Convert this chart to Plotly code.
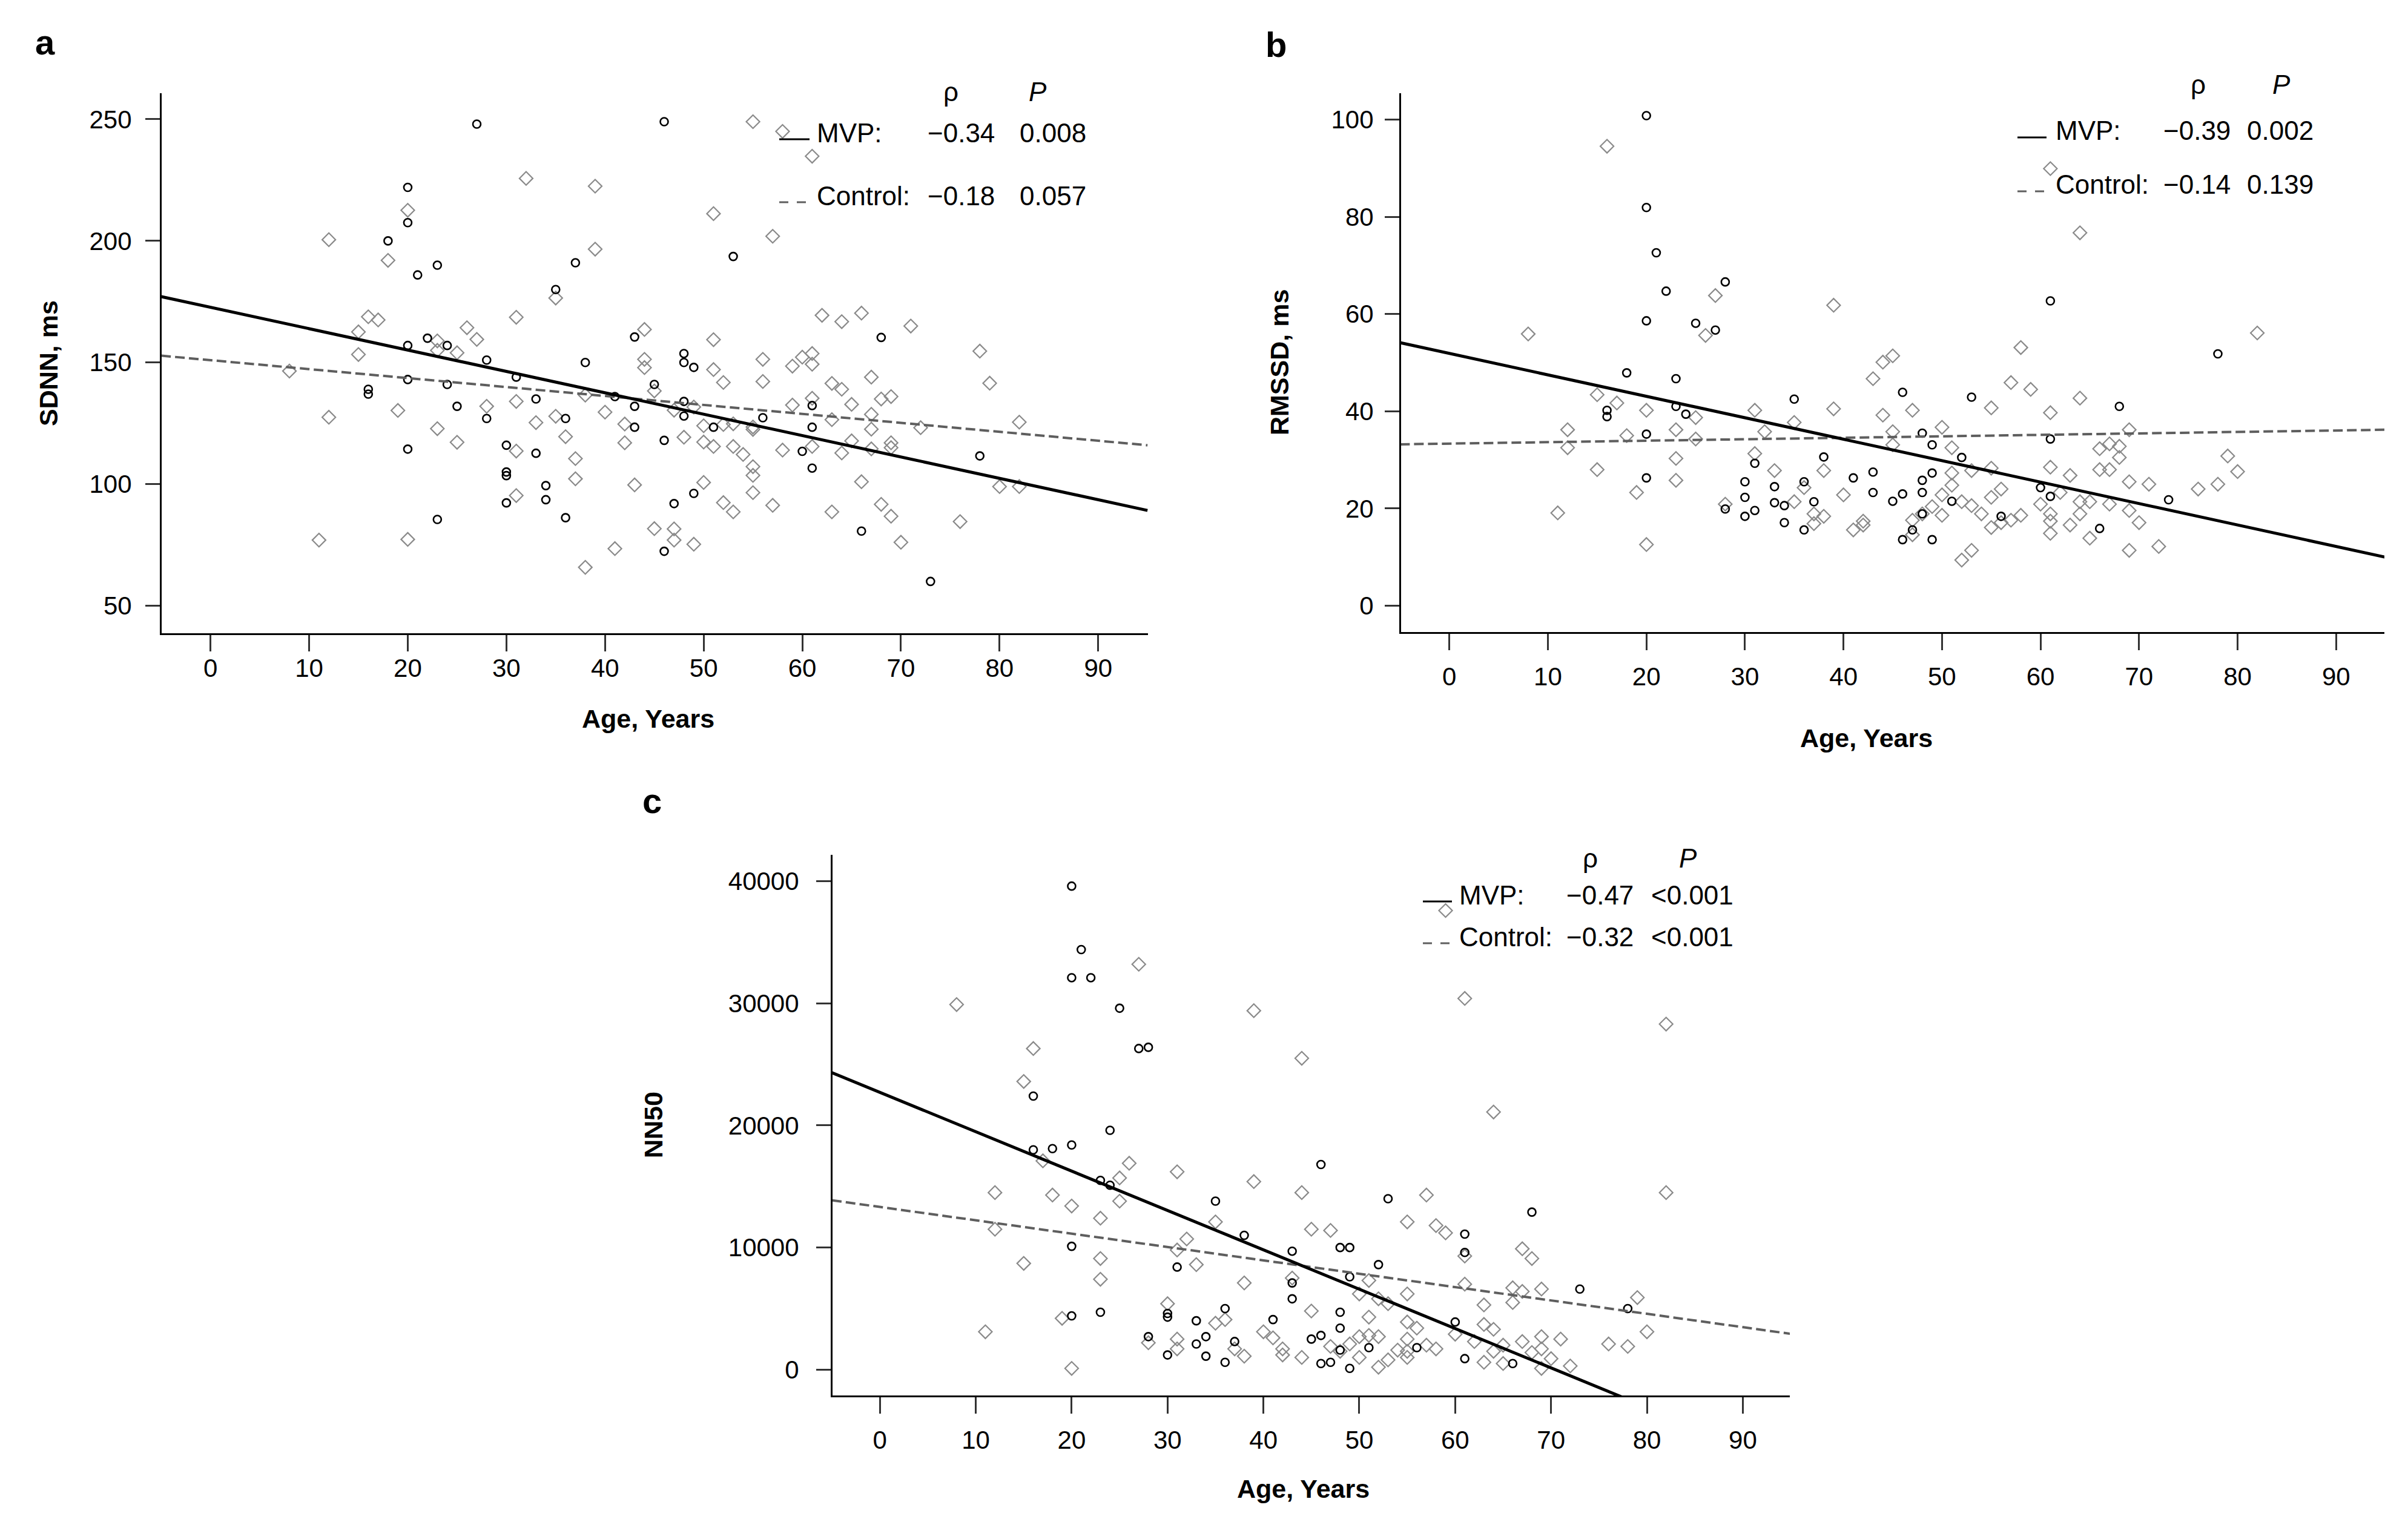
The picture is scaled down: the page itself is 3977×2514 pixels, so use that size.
import plotly.graph_objects as go

W, H = 3977, 2514
FONT = "Liberation Sans, Arial, sans-serif"

# ---------------- Panel a: SDNN ----------------
a_mvp_age = [27, 46, 20, 20, 18, 21, 23, 37, 35, 53, 22, 20, 24, 28, 38, 20, 24, 31, 16, 16,
             25, 33, 28, 36, 43, 48, 48, 49, 41, 43, 45, 43, 48, 48, 46, 51, 30, 33, 30, 30,
             30, 34, 34, 36, 23, 20, 47, 49, 46, 60, 61, 61, 61, 56, 68, 66, 73, 78]
a_mvp_val = [248, 249, 222, 207.5, 200, 186, 190, 191, 180, 193.6, 160, 157, 157, 151, 150, 143, 141, 144, 139, 137,
             132, 135, 127, 127, 160.5, 153.7, 150, 148, 136, 132, 141, 123.4, 134, 128, 118, 123.4, 116, 112.7, 105, 103.5,
             92.3, 99.4, 93.6, 86.2, 85.5, 114.4, 92, 96.2, 72.4, 113.5, 132.3, 123.4, 106.6, 127.3, 160.3, 80.7, 60, 111.6]

a_ctrl_age = [8, 11, 12, 12, 15, 15, 16, 17, 18, 19, 20, 20, 23, 23, 23, 25, 25, 26, 27, 28,
              31, 31, 31, 31, 32, 33, 35, 35, 36, 37, 37, 38, 38, 39, 39, 40, 41, 42, 42, 43,
              44, 44, 44, 45, 45, 47, 47, 47, 48, 49, 49, 50, 50, 50, 51, 51, 51, 51, 52, 52,
              52, 53, 53, 53, 54, 55, 55, 55, 55, 55, 55, 56, 56, 57, 57, 58, 58, 59, 59, 60,
              61, 61, 61, 61, 61, 62, 63, 63, 63, 64, 64, 64, 65, 65, 66, 66, 67, 67, 67, 67,
              68, 68, 69, 69, 69, 69, 70, 71, 72, 76, 78, 79, 80, 82, 82]
a_ctrl_val = [146.5, 77, 200.5, 127.5, 153.3, 162.6, 168.8, 167.5, 192, 130.3, 212.6, 77.3, 122.8, 158.9, 155, 154, 117.2, 164.3, 159.5, 132,
              168.6, 134, 113.6, 95.3, 225.7, 125.3, 176.5, 127.9, 119.5, 110.5, 102.2, 136.6, 65.8, 222.5, 196.6, 129.6, 73.5, 124.7, 117, 99.7,
              163.6, 151.3, 147.9, 138.3, 81.7, 130.4, 81.6, 77, 119.3, 131.7, 75.3, 100.7, 117.3, 124, 211.2, 159.4, 147.1, 115.5, 141.8, 92.4,
              124.5, 88.6, 115.5, 124.8, 112.2, 249, 107.2, 103.6, 96.5, 123.5, 122.5, 151.3, 142.2, 201.9, 91.3, 245, 114, 148.5, 132.5, 152.2,
              234.8, 153.7, 149.3, 135.3, 115.5, 169.4, 141.4, 126.5, 88.6, 166.8, 139, 112.8, 117.8, 132.8, 170.3, 101, 144, 128.7, 122.6, 114.5,
              135, 91.7, 136, 117, 115, 86.8, 76.1, 165, 123.2, 84.6, 154.7, 141.5, 99, 99, 125.5]

a_fit_x = [-5, 95]
a_fit_mvp = [177.1, 89.2]
a_fit_ctrl = [152.8, 116.0]

# ---------------- Panel b: RMSSD ----------------
b_mvp_age = [20, 20, 21, 22, 20, 25, 27, 28, 18, 23, 16, 16, 23, 24, 20, 20, 28, 30, 30, 30,
             31, 31, 33, 33, 34, 34, 35, 36, 36, 37, 38, 41, 43, 43, 45, 46, 46, 46, 47, 48,
             48, 48, 48, 49, 49, 49, 51, 52, 53, 56, 60, 61, 61, 61, 66, 68, 73, 78]
b_mvp_val = [100.8, 81.9, 72.6, 64.7, 58.6, 58.1, 56.7, 66.6, 47.9, 46.7, 40.2, 38.9, 41, 39.4, 35.3, 26.3, 19.9, 25.5, 22.3, 18.4,
             29.3, 19.6, 24.5, 21.2, 20.6, 17.1, 42.5, 25.5, 15.6, 21.4, 30.6, 26.3, 27.5, 23.3, 21.5, 43.9, 23, 13.6, 15.6, 35.5,
             25.8, 23.3, 18.9, 33.1, 27.3, 13.6, 21.5, 30.5, 42.9, 18.4, 24.3, 62.7, 34.3, 22.5, 15.9, 41, 21.8, 51.8]

b_ctrl_age = [8, 11, 12, 12, 15, 15, 16, 17, 18, 19, 20, 20, 23, 23, 23, 25, 25, 26, 27, 28,
              31, 31, 32, 33, 35, 35, 36, 37, 37, 38, 38, 39, 39, 40, 41, 42, 42, 43, 44, 44,
              45, 45, 45, 47, 47, 47, 48, 49, 50, 50, 50, 51, 51, 51, 52, 52, 53, 53, 53, 54,
              55, 55, 55, 55, 56, 56, 57, 57, 58, 58, 59, 60, 61, 61, 61, 61, 61, 61, 62, 63,
              63, 64, 64, 64, 64, 65, 65, 66, 66, 67, 67, 67, 68, 68, 69, 69, 69, 69, 70, 71,
              72, 76, 78, 79, 80, 82]
b_ctrl_val = [55.9, 19.1, 36.2, 32.5, 43.4, 28, 94.5, 41.7, 35, 23.3, 40.2, 12.6, 36.2, 30.3, 25.8, 38.7, 34.3, 55.6, 63.8, 20.9,
              40.2, 31.3, 35.8, 27.8, 37.7, 21.4, 24.3, 18.9, 16.9, 27.8, 18.4, 61.8, 40.5, 22.8, 15.6, 16.6, 17.4, 46.7, 50.1, 39.2,
              51.4, 35.8, 33.1, 40.2, 17.6, 14.6, 18.9, 20.4, 36.7, 22.8, 18.6, 32.5, 27.3, 24.8, 9.4, 21.4, 11.4, 27.8, 20.6, 18.9,
              40.7, 28.3, 22.3, 16.1, 24, 17.1, 45.9, 17.6, 53.1, 18.6, 44.5, 20.9, 89.9, 39.7, 28.5, 18.9, 17.4, 14.9, 23.3, 26.8,
              16.6, 76.7, 42.7, 21.4, 18.9, 21.4, 13.9, 32.3, 28, 33.3, 28, 20.9, 32.8, 30.5, 36.2, 25.5, 19.6, 11.4, 17.1, 25,
              12.2, 24, 25, 30.8, 27.6, 56.1]

b_fit_x = [-5, 95]
b_fit_mvp = [54.1, 10.0]
b_fit_ctrl = [33.2, 36.2]

# ---------------- Panel c: NN50 ----------------
c_mvp_age = [20, 21, 20, 22, 25, 27, 28, 16, 24, 20, 18, 16, 23, 24, 20, 20, 23, 28, 30, 30,
             30, 31, 33, 33, 34, 34, 35, 36, 36, 37, 38, 41, 43, 43, 43, 45, 46, 46, 46, 47,
             48, 48, 48, 48, 49, 49, 49, 51, 52, 53, 56, 60, 61, 61, 61, 66, 68, 73, 78]
c_mvp_val = [39600, 34400, 32100, 32100, 29600, 26300, 26400, 22400, 19600, 18400, 18100, 18000, 15500, 15100, 10100, 4400, 4700, 2700, 4600, 4300,
             1200, 8400, 4000, 2100, 2700, 1100, 13800, 5000, 600, 2300, 11000, 4100, 9700, 7100, 5800, 2500, 16800, 2800, 500, 600,
             10000, 4700, 3400, 1600, 10000, 7600, 100, 1800, 8600, 14000, 1800, 3900, 11100, 9600, 900, 500, 12900, 6600, 5000]

c_ctrl_age = [8, 11, 12, 12, 15, 15, 16, 17, 18, 19, 20, 20, 23, 23, 23, 25, 25, 26, 27, 28,
              30, 31, 31, 31, 31, 32, 33, 35, 35, 36, 37, 38, 38, 39, 39, 40, 41, 42, 42, 43,
              44, 44, 44, 45, 45, 47, 47, 48, 49, 50, 50, 50, 51, 51, 51, 52, 52, 52, 53, 53,
              54, 55, 55, 55, 55, 55, 55, 56, 57, 57, 58, 58, 59, 59, 60, 61, 61, 61, 62, 63,
              63, 63, 64, 64, 64, 65, 65, 66, 66, 67, 67, 67, 68, 68, 69, 69, 69, 69, 70, 71,
              72, 76, 78, 79, 80, 82, 82]
c_ctrl_val = [29900, 3100, 14500, 11500, 23600, 8700, 26300, 17100, 14300, 4200, 13400, 100, 12400, 9100, 7400, 15700, 13800, 16900, 33200, 2200,
              5400, 16200, 9800, 2500, 1700, 10700, 8600, 12100, 3800, 4100, 1700, 7100, 1100, 29400, 15400, 3100, 2600, 1700, 1200, 7500,
              25500, 14500, 1000, 11500, 4800, 11400, 1900, 1500, 2100, 6200, 2700, 1000, 7300, 4300, 2800, 5800, 2700, 200, 5400, 800,
              1600, 12100, 6200, 3900, 2500, 1500, 1000, 3400, 14300, 2000, 11800, 1700, 11200, 37600, 2900, 30400, 7000, 9300, 2300, 5300,
              3700, 600, 21100, 3300, 1500, 2000, 500, 6700, 5500, 9900, 6400, 2300, 9100, 1400, 6600, 2700, 1700, 100, 900, 2500,
              300, 2100, 1900, 5900, 3100, 28300, 14500]

c_fit_x = [-5, 95]
c_fit_mvp = [24320, -7920]
c_fit_ctrl = [13870, 2930]

# ---------------- Legend texts ----------------
rho_a = ["−0.34", "−0.18"]; p_a = ["0.008", "0.057"]
rho_b = ["−0.39", "−0.14"]; p_b = ["0.002", "0.139"]
rho_c = ["−0.47", "−0.32"]; p_c = ["<0.001", "<0.001"]
groups = ["MVP:", "Control:"]
x_ticks = [0, 10, 20, 30, 40, 50, 60, 70, 80, 90]
a_yticks = [50, 100, 150, 200, 250]
b_yticks = [0, 20, 40, 60, 80, 100]
c_yticks = [0, 10000, 20000, 30000, 40000]

CTRL_COLOR = "#8a8a8a"
LINE_CTRL = "#5e5e5e"

fig = go.Figure()

def px_x(p):
    return p / W

def px_y(p):
    return 1 - p / H

def add_panel(xa, ya, mvp_age, mvp_val, ctrl_age, ctrl_val, fx, fm, fc):
    fig.add_trace(go.Scatter(x=ctrl_age, y=ctrl_val, mode="markers", xaxis=xa, yaxis=ya,
                             marker=dict(symbol="diamond-open", size=17, color=CTRL_COLOR,
                                         line=dict(width=2.2, color=CTRL_COLOR)),
                             showlegend=False, cliponaxis=False))
    fig.add_trace(go.Scatter(x=mvp_age, y=mvp_val, mode="markers", xaxis=xa, yaxis=ya,
                             marker=dict(symbol="circle-open", size=13, color="#000000",
                                         line=dict(width=2.6, color="#000000")),
                             showlegend=False, cliponaxis=False))
    fig.add_trace(go.Scatter(x=fx, y=fc, mode="lines", xaxis=xa, yaxis=ya,
                             line=dict(color=LINE_CTRL, width=4, dash="16px,7px"),
                             showlegend=False))
    fig.add_trace(go.Scatter(x=fx, y=fm, mode="lines", xaxis=xa, yaxis=ya,
                             line=dict(color="#000000", width=5),
                             showlegend=False))

add_panel("x", "y", a_mvp_age, a_mvp_val, a_ctrl_age, a_ctrl_val, a_fit_x, a_fit_mvp, a_fit_ctrl)
add_panel("x2", "y2", b_mvp_age, b_mvp_val, b_ctrl_age, b_ctrl_val, b_fit_x, b_fit_mvp, b_fit_ctrl)
add_panel("x3", "y3", c_mvp_age, c_mvp_val, c_ctrl_age, c_ctrl_val, c_fit_x, c_fit_mvp, c_fit_ctrl)

tickfont = dict(family=FONT, size=42, color="#000000")

def xaxis_cfg(dom, rng, anchor, standoff):
    return dict(domain=dom, range=rng, anchor=anchor, tickvals=x_ticks, showline=True,
                linecolor="#000000", linewidth=3, ticks="outside", ticklen=27, tickwidth=3,
                tickcolor="#333333", showgrid=False, zeroline=False, tickfont=tickfont,
                ticklabelstandoff=standoff, fixedrange=True)

def yaxis_cfg(dom, rng, anchor, tv, standoff):
    return dict(domain=dom, range=rng, anchor=anchor, tickvals=tv, showline=True,
                linecolor="#000000", linewidth=3, ticks="outside", ticklen=24, tickwidth=3,
                tickcolor="#333333", showgrid=False, zeroline=False, tickfont=tickfont,
                tickformat="d", ticklabelstandoff=standoff, fixedrange=True)

fig.update_layout(
    width=W, height=H, margin=dict(l=0, r=0, t=0, b=0),
    paper_bgcolor="white", plot_bgcolor="white", showlegend=False,
    xaxis=xaxis_cfg([259 / W, 1888 / W], [-4.95, 95.05], "y", -8),
    yaxis=yaxis_cfg([1 - 1038 / H, 1 - 146 / H], [38.7, 260.7], "x", a_yticks, 14),
    xaxis2=xaxis_cfg([2306 / W, 3930 / W], [-4.9, 94.9], "y2", 8),
    yaxis2=yaxis_cfg([1 - 1036 / H, 1 - 146 / H], [-5.4, 105.4], "x2", b_yticks, 10),
    xaxis3=xaxis_cfg([1367 / W, 2948 / W], [-4.94, 94.9], "y3", 8),
    yaxis3=yaxis_cfg([1 - 2297 / H, 1 - 1404 / H], [-2117, 42162], "x3", c_yticks, 20),
)

ann = []
shapes = []
DX, DY = -10, -9

def text(px, py, t, size=44, bold=False, xanchor="left", angle=0, italic=False):
    s = t
    if bold:
        s = "<b>" + s + "</b>"
    if italic:
        s = "<i>" + s + "</i>"
    if angle == 0:
        px, py = px + DX, py + DY
    ann.append(dict(x=px_x(px), y=px_y(py), xref="paper", yref="paper", text=s, showarrow=False,
                    xanchor=xanchor, yanchor="middle", textangle=angle,
                    font=dict(family=FONT, size=size, color="#000000")))

def legend(rho_x, p_x, head_y, line_x0, line_x1, label_x, val_x, pv_x, row_y, rhos, ps):
    text(rho_x, head_y, "ρ", xanchor="center")
    text(p_x, head_y, "P", xanchor="center", italic=True)
    for i in range(2):
        y = row_y[i]
        shapes.append(dict(type="line", xref="paper", yref="paper",
                           x0=px_x(line_x0 - 6), x1=px_x(line_x1 - 6), y0=px_y(y + 2), y1=px_y(y + 2),
                           line=dict(color="#000000" if i == 0 else LINE_CTRL, width=3,
                                     dash="solid" if i == 0 else "15px,14px")))
        text(label_x, y, groups[i])
        text(val_x, y, rhos[i])
        text(pv_x, y, ps[i])

legend(1572, 1716, 152, 1285, 1335, 1349, 1532, 1684, [220, 324], rho_a, p_a)
legend(3632, 3770, 140, 3330, 3378, 3395, 3573, 3711, [217, 306], rho_b, p_b)
legend(2628, 2790, 1418, 2348, 2396, 2410, 2587, 2727, [1479, 1548], rho_c, p_c)

# panel letters
text(76, 70, "a", size=58, bold=True, xanchor="center")
text(2109, 74, "b", size=58, bold=True, xanchor="center")
text(1079, 1323, "c", size=58, bold=True, xanchor="center")

# axis titles
text(1072, 1188, "Age, Years", size=43, bold=True, xanchor="center")
text(3084, 1220, "Age, Years", size=43, bold=True, xanchor="center")
text(2154, 2460, "Age, Years", size=43, bold=True, xanchor="center")
text(72, 592, "SDNN, ms", size=43, bold=True, xanchor="center", angle=-90)
text(2105, 591, "RMSSD, ms", size=43, bold=True, xanchor="center", angle=-90)
text(1071, 1850, "NN50", size=43, bold=True, xanchor="center", angle=-90)

fig.update_layout(annotations=ann, shapes=shapes)
fig.write_html("out.html")
